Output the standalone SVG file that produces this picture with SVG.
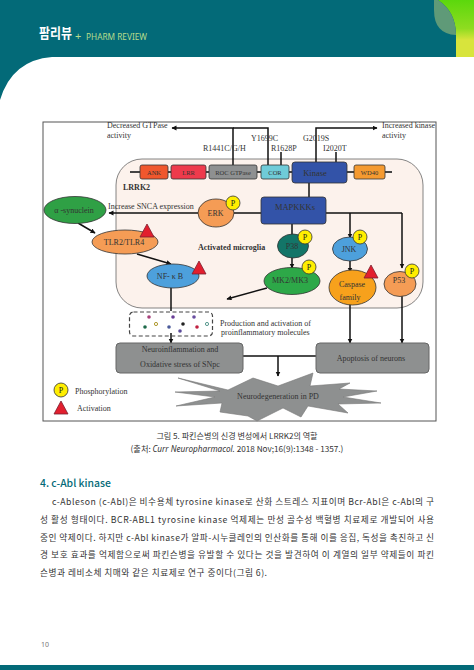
<svg xmlns="http://www.w3.org/2000/svg" width="474" height="670" viewBox="0 0 474 670">
<style>
.s{font-family:"Liberation Serif",serif;fill:#333}
.k{font-family:"Noto Sans CJK KR","Noto Sans",sans-serif;fill:#333}
.c{stroke:#111;stroke-width:1.5;fill:none}
.a{marker-end:url(#ah)}
.b{stroke:#333;stroke-width:.8}
.pc{fill:#ffee00;stroke:#333;stroke-width:.8}
.tr{fill:#e21f2e;stroke:#7a2030;stroke-width:.8}
.m{text-anchor:middle}
</style>
<defs>
<marker id="ah" markerWidth="6" markerHeight="6" refX="4.5" refY="2.5" orient="auto" markerUnits="userSpaceOnUse"><path d="M0 0L5 2.5L0 5z" fill="#111"/></marker>
<linearGradient id="gy" x1="0" y1="0" x2="0" y2="1"><stop offset="0" stop-color="#5bd80c"/><stop offset=".5" stop-color="#8fdc20"/><stop offset=".7" stop-color="#d8e43c"/><stop offset="1" stop-color="#d8e43c"/></linearGradient>
<g id="pm"><circle r="7" class="pc"/><text y="3" class="s m" font-size="8" style="fill:#222">P</text></g>
<g id="tm"><path d="M0 -7L7 6H-7z" class="tr"/></g>
</defs>
<g id="header">
<rect width="474" height="57" fill="#036a78"/>
<path d="M0 57H52Q12 60 0 100z" fill="#036a78"/>
<path d="M438 0H474V57H456V35Q456 12 438 0z" fill="url(#gy)"/>
<path d="M434 0H438Q456 12 456 35Q434 34 434 10z" fill="#5f9a78"/>
<text x="39" y="38" font-family="Noto Sans CJK KR,sans-serif" font-size="13.500" font-weight="700" fill="#fff" textLength="33" lengthAdjust="spacingAndGlyphs">팜리뷰</text>
<text x="75" y="40" font-family="Noto Sans,sans-serif" font-size="11" fill="#b6dc8c">+</text>
<text x="86" y="39.500" font-family="Noto Sans,sans-serif" font-size="9.400" fill="#b6dc8c" textLength="61" lengthAdjust="spacingAndGlyphs">PHARM REVIEW</text>
</g>
<rect x="43" y="122" width="393" height="299" fill="#fff" stroke="#555" stroke-width="1"/>
<g id="microglia"><rect x="116" y="159" width="307" height="149" rx="26" fill="#fcf2ec" stroke="#666" stroke-width=".8"/></g>
<g id="connectors">
<path class="c" d="M130 172H392" style="stroke:#444;stroke-width:2"/>
<path class="c a" d="M233 165V128H172"/>
<path class="c" d="M233 128H268V165"/>
<path class="c" d="M281 165V152"/>
<path class="c a" d="M316 162V128H377"/>
<path class="c" d="M336 162V152"/>
<path class="c" d="M309 183V197"/>
<path class="c a" d="M261 213H109"/>
<path class="c" d="M326 213H402"/>
<path class="c a" d="M402 213V268"/>
<path class="c a" d="M350 213V238"/>
<path class="c" d="M292 224V235"/>
<path class="c a" d="M292 256V268"/>
<path class="c a" d="M350 258V272"/>
<path class="c a" d="M78 223L95 233"/>
<path class="c a" d="M137 254L171 264"/>
<path class="c a" d="M267 288L227 299"/>
<path class="c" d="M171 286V311"/>
<path class="c a" d="M171 333V343"/>
<path class="c a" d="M350 304V343"/>
<path class="c a" d="M402 294V343"/>
<path class="c" d="M243 356H316"/>
<path class="c a" d="M278 356V376"/>
</g>
<g id="ank"><rect x="140" y="165" width="28" height="14" rx="2" fill="#f0572d" class="b"/><text x="154" y="175" class="s m" font-size="6.500">ANK</text></g>
<g id="lrr"><rect x="171" y="165" width="35" height="14" rx="2" fill="#ee3a4c" class="b"/><text x="188.500" y="175" class="s m" font-size="6.500">LRR</text></g>
<g id="roc"><rect x="209" y="165" width="48" height="14" rx="2" fill="#8e9091" class="b"/><text x="233" y="175" class="s m" font-size="6.500">ROC GTPase</text></g>
<g id="cor"><rect x="261" y="165" width="28" height="14" rx="2" fill="#6fcbd8" class="b"/><text x="275" y="175" class="s m" font-size="6.500">COR</text></g>
<g id="kinase"><rect x="292" y="162" width="55" height="21" rx="3" fill="#3353a8" class="b"/><text x="315" y="176" class="s m" font-size="8.500">Kinase</text></g>
<g id="wd40"><rect x="354" y="165" width="31" height="14" rx="2" fill="#f59a30" class="b"/><text x="369.500" y="175" class="s m" font-size="6.500">WD40</text></g>
<g id="mapkkk"><rect x="261" y="197" width="65" height="27" rx="3" fill="#3353a8" class="b"/><text x="295" y="210" class="s m" font-size="8.500">MAPKKKs</text></g>
<g id="asyn"><ellipse cx="75" cy="210" rx="31" ry="13.500" fill="#2fa045" class="b"/><text x="74" y="213" class="s m" font-size="8">α -synuclein</text></g>
<g id="tlr"><ellipse cx="125" cy="242" rx="33" ry="12" fill="#f59c55" class="b"/><text x="124" y="245" class="s m" font-size="8">TLR2/TLR4</text><use href="#tm" x="147" y="231"/></g>
<g id="nfkb"><ellipse cx="173" cy="276" rx="26" ry="12" fill="#4da0dc" class="b"/><text x="170" y="279" class="s m" font-size="8">NF- κ B</text><use href="#tm" x="199" y="268"/></g>
<g id="erk"><ellipse cx="216" cy="213" rx="18" ry="14" fill="#f59c55" class="b"/><text x="215.500" y="216" class="s m" font-size="8">ERK</text><use href="#pm" x="233" y="203"/></g>
<g id="p38"><ellipse cx="293" cy="246" rx="15.500" ry="12" fill="#137568" class="b"/><text x="292" y="249" class="s m" font-size="8">P38</text><use href="#pm" x="305" y="237"/></g>
<g id="jnk"><ellipse cx="350" cy="249" rx="17.500" ry="12" fill="#4da0dc" class="b"/><text x="349" y="252" class="s m" font-size="8">JNK</text><use href="#pm" x="360" y="237"/></g>
<g id="mk2"><ellipse cx="292" cy="281" rx="28" ry="13.500" fill="#2da848" class="b"/><text x="290" y="283" class="s m" font-size="8">MK2/MK3</text><use href="#pm" x="309" y="267"/></g>
<g id="caspase"><ellipse cx="352.500" cy="287.500" rx="23.500" ry="17.500" fill="#f7a11c" class="b"/><text x="352" y="287" class="s m" font-size="8">Caspase</text><text x="350" y="300" class="s m" font-size="8">family</text><use href="#tm" x="371" y="272"/></g>
<g id="p53"><ellipse cx="400" cy="284" rx="16" ry="12.500" fill="#f59c55" class="b"/><text x="399" y="283" class="s m" font-size="8">P53</text><use href="#pm" x="412" y="271"/></g>
<g id="molecules">
<rect x="129.500" y="312" width="83" height="24" rx="4" fill="none" stroke="#444" stroke-width="1.200" stroke-dasharray="4 2.500"/>
<circle cx="149" cy="317" r="1.800" fill="#a8407a"/><circle cx="173" cy="317" r="1.800" fill="#6a3f96"/><circle cx="194" cy="317" r="1.800" fill="#6a4fa0"/>
<circle cx="145" cy="327" r="1.800" fill="#1e6a4a"/><circle cx="156" cy="324" r="1.600" fill="#fff" stroke="#b09a30"/><circle cx="169" cy="327" r="1.800" fill="#4a5a9a"/><circle cx="183" cy="324" r="1.800" fill="#222"/><circle cx="197" cy="327" r="1.800" fill="#c02040"/><circle cx="207" cy="324" r="1.600" fill="#fff" stroke="#5a9a90"/><circle cx="180" cy="331" r="1.800" fill="#5a4a9a"/>
</g>
<g id="neuroinflammation"><rect x="116" y="343" width="127" height="30" rx="4" fill="#8e9090" stroke="#666"/><text x="180" y="352" class="s m" font-size="8">Neuroinflammation and</text><text x="180" y="367" class="s m" font-size="8">Oxidative stress of SNpc</text></g>
<g id="apoptosis"><rect x="316" y="343" width="113" height="30" rx="4" fill="#8e9090" stroke="#666"/><text x="371" y="361" class="s m" font-size="8">Apoptosis of neurons</text></g>
<g id="neurodegeneration"><path d="M178 378L228 390L253 378L278 386L313 373L310 386L350 383L339 389L377 391L343 397L381 403L338 404L348 413L308 406L301 417L283 408L257 421L248 416L220 412L222 403L176 406L215 397L175 392L220 391z" fill="#8e9090" stroke="#777" stroke-width=".6"/><text x="278" y="399" class="s m" font-size="8">Neurodegeneration in PD</text></g>
<g id="legend"><use href="#pm" x="61" y="390"/><text x="75" y="394" class="s" font-size="8">Phosphorylation</text><path d="M61 401L68 414H54z" class="tr"/><text x="77" y="411" class="s" font-size="8">Activation</text></g>
<g id="labels">
<text x="107" y="128" class="s" font-size="8">Decreased GTPase</text><text x="107" y="138" class="s" font-size="8">activity</text>
<text x="382" y="128" class="s" font-size="8">Increased kinase</text><text x="382" y="138" class="s" font-size="8">activity</text>
<text x="203" y="151" class="s" font-size="8">R1441C/G/H</text>
<text x="251" y="141" class="s" font-size="8">Y1699C</text>
<text x="271" y="151" class="s" font-size="8">R1628P</text>
<text x="303" y="141" class="s" font-size="8">G2019S</text>
<text x="323" y="151" class="s" font-size="8">I2020T</text>
<text x="123" y="190" class="s" font-size="8" font-weight="700">LRRK2</text>
<text x="108" y="209" class="s" font-size="8">Increase SNCA expression</text>
<text x="198" y="250" class="s" font-size="8" font-weight="700">Activated microglia</text>
<text x="220" y="326" class="s" font-size="8">Production and activation of</text>
<text x="221" y="335" class="s" font-size="8">proinflammatory molecules</text>
</g>
<g id="text">
<text x="237" y="439" class="k m" font-size="8.100">그림 5. 파킨슨병의 신경 변성에서 LRRK2의 역할</text>
<text x="237" y="452" class="k m" font-size="8.200">(출처: <tspan font-style="italic" font-family="Noto Sans">Curr Neuropharmacol.</tspan> 2018 Nov;16(9):1348 - 1357.)</text>
<text x="40" y="486.500" font-family="Noto Sans CJK KR,sans-serif" font-size="10.400" font-weight="500" fill="#036a78">4. c-Abl kinase</text>
<text x="52" y="505" class="k" font-size="8.700" textLength="382">c-Ableson (c-Abl)은 비수용체 tyrosine kinase로 산화 스트레스 지표이며 Bcr-Abl은 c-Abl의 구</text>
<text x="40" y="523" class="k" font-size="8.700" textLength="394">성 활성 형태이다. BCR-ABL1 tyrosine kinase 억제제는 만성 골수성 백혈병 치료제로 개발되어 사용</text>
<text x="40" y="540.500" class="k" font-size="8.700" textLength="394">중인 약제이다. 하지만 c-Abl kinase가 알파-시누클레인의 인산화를 통해 이를 응집, 독성을 촉진하고 신</text>
<text x="40" y="558" class="k" font-size="8.700" textLength="394">경 보호 효과를 억제함으로써 파킨슨병을 유발할 수 있다는 것을 발견하여 이 계열의 일부 약제들이 파킨</text>
<text x="40" y="575.500" class="k" font-size="8.700" textLength="227">슨병과 레비소체 치매와 같은 치료제로 연구 중이다(그림 6).</text>
<text x="45" y="647" font-family="Noto Sans,sans-serif" font-size="7" fill="#777" text-anchor="middle">10</text>
</g>
<rect id="footer" y="665" width="474" height="5" fill="#036a78"/>
</svg>
